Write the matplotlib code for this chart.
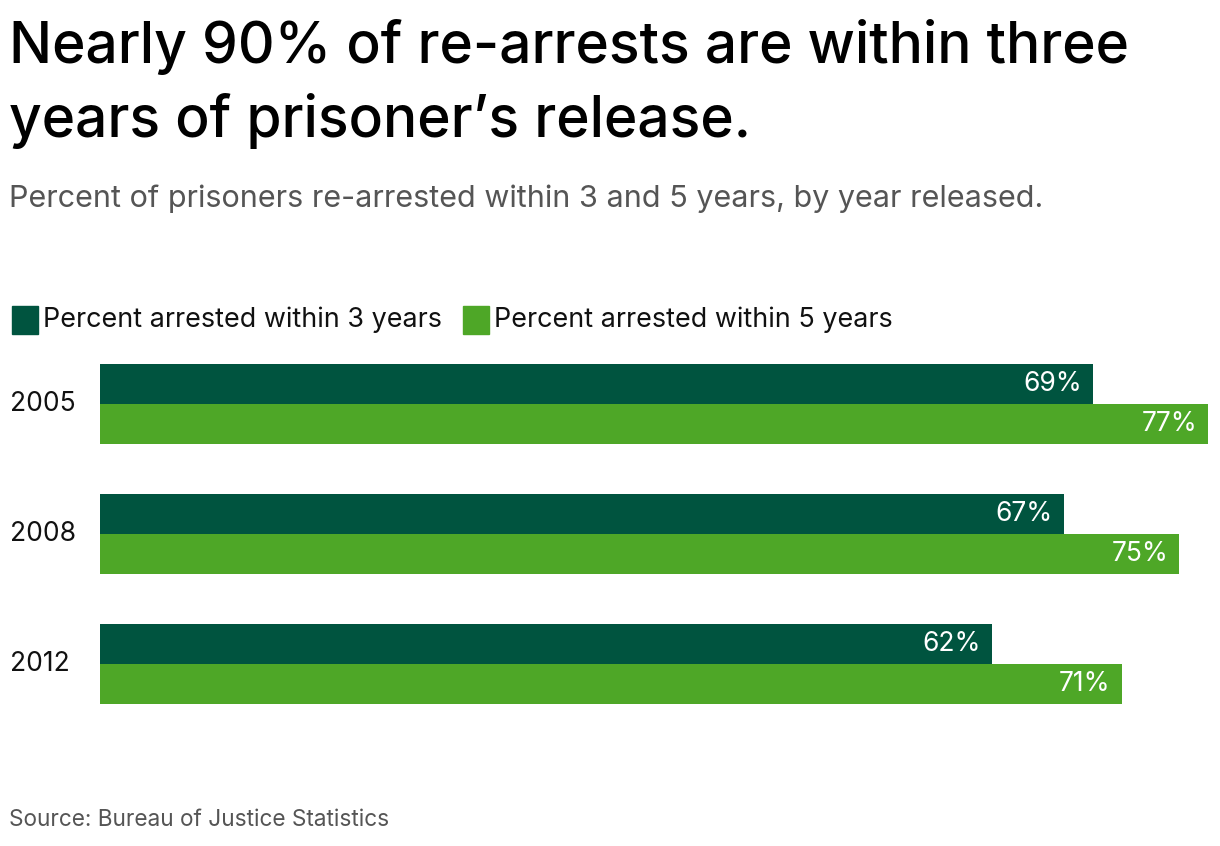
import matplotlib
matplotlib.use("Agg")
import matplotlib.pyplot as plt
from matplotlib.patches import Rectangle

years = ["2005", "2008", "2012"]
within_3 = [69, 67, 62]
within_5 = [77, 75, 71]
labels = ["Percent arrested within 3 years", "Percent arrested within 5 years"]

dark = "#00543f"
light = "#4ea727"

W, H = 1220, 846
plt.rcParams["font.family"] = ["Inter", "DejaVu Sans"]

fig = plt.figure(figsize=(W / 100, H / 100), dpi=100)


def px(x, y):
    return x / W, 1 - y / H


# bar area from 100px to 1208px, 364px to 704px
ax = fig.add_axes([100 / W, 1 - 704 / H, 1108 / W, 340 / H])
h = 40 / 130
pos = list(range(len(years)))
ax.barh([p - h / 2 for p in pos], within_3, height=h, color=dark)
ax.barh([p + h / 2 for p in pos], within_5, height=h, color=light)
ax.set_xlim(0, max(within_5))
ax.set_ylim(len(years) - 1 + h, -h)
ax.axis("off")

for p, v in zip(pos, within_3):
    ax.annotate(f"{v}%", (v, p - h / 2), xytext=(-11, 0), textcoords="offset pixels",
                ha="right", va="center", color="white", fontsize=19)
for p, v in zip(pos, within_5):
    ax.annotate(f"{v}%", (v, p + h / 2), xytext=(-11, 0), textcoords="offset pixels",
                ha="right", va="center", color="white", fontsize=19)

for p, yr in zip(pos, years):
    ax.annotate(yr, (0, p), xycoords=("figure fraction", "data"), xytext=(10, 0),
                textcoords="offset pixels", ha="left", va="center", fontsize=19, color="#111111")

# title, subtitle
fig.text(*px(9, 63), "Nearly 90% of re-arrests are within three", fontsize=41, fontweight=500,
         ha="left", va="baseline")
fig.text(*px(9, 137), "years of prisoner\u2019s release.", fontsize=41, fontweight=500,
         ha="left", va="baseline")
fig.text(*px(9, 207), "Percent of prisoners re-arrested within 3 and 5 years, by year released.",
         fontsize=22, color="#555555", ha="left", va="baseline")

# legend
for x0, txt, c in [(12, labels[0], dark), (463, labels[1], light)]:
    fig.patches.append(Rectangle(px(x0, 334), 26 / W, 28 / H, transform=fig.transFigure,
                                 color=c, figure=fig))
    fig.text(*px(x0 + 31, 327), txt, fontsize=19.4, ha="left", va="baseline", color="#111111")

fig.text(*px(9, 826), "Source: Bureau of Justice Statistics", fontsize=16.3, color="#555555",
         ha="left", va="baseline")

fig.savefig("out.png", dpi=100)
